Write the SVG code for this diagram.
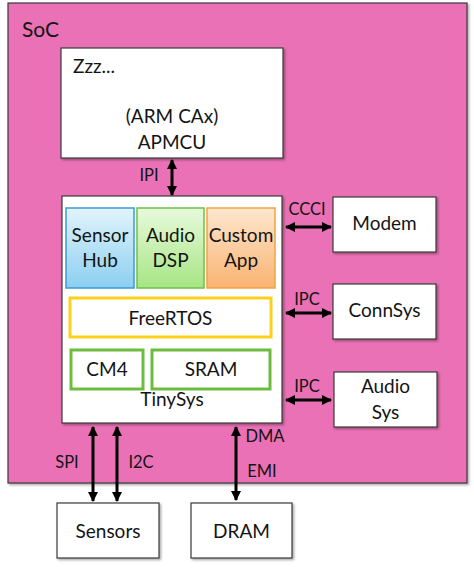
<svg xmlns="http://www.w3.org/2000/svg" width="474" height="568" viewBox="0 0 474 568">
<defs>
<linearGradient id="gBlue" x1="0" y1="0" x2="0" y2="1"><stop offset="0" stop-color="#e2f4fc"/><stop offset="1" stop-color="#8ccff0"/></linearGradient>
<linearGradient id="gGreen" x1="0" y1="0" x2="0" y2="1"><stop offset="0" stop-color="#e8fadb"/><stop offset="1" stop-color="#a6e584"/></linearGradient>
<linearGradient id="gOrange" x1="0" y1="0" x2="0" y2="1"><stop offset="0" stop-color="#fee7cf"/><stop offset="1" stop-color="#f9b371"/></linearGradient>
<marker id="ah" viewBox="0 0 10 10" refX="9" refY="5" markerWidth="3.4" markerHeight="3.4" orient="auto-start-reverse" markerUnits="strokeWidth"><path d="M0,0 L10,5 L0,10 z" fill="#000"/></marker>
<filter id="sh" x="-5%" y="-5%" width="115%" height="115%"><feDropShadow dx="1.5" dy="1.5" stdDeviation="1" flood-color="#000" flood-opacity="0.35"/></filter>
</defs>
<style>
text{font-family:Lato,"Open Sans","Liberation Sans",sans-serif;fill:#141414;text-anchor:middle}
.box{fill:#fff;stroke:#3a3a3a;stroke-width:1.2}
.big{font-size:19px}
.lbl{font-size:16.5px}
.ln{stroke:#000;stroke-width:3;fill:none;marker-start:url(#ah);marker-end:url(#ah)}
</style>
<g id="soc">
<rect x="8" y="3" width="459" height="480" fill="#ea71b5" stroke="#3a3a3a" stroke-width="1.2" filter="url(#sh)"/>
<text x="22" y="37" style="font-size:21px;text-anchor:start">SoC</text>
</g>
<g id="apmcu">
<rect class="box" x="61" y="48" width="222" height="110" filter="url(#sh)"/>
<text x="73" y="73" class="big" style="text-anchor:start">Zzz...</text>
<text x="172" y="123" class="big">(ARM CAx)</text>
<text x="172" y="149" class="big">APMCU</text>
</g>
<g id="tinysys">
<rect class="box" x="62" y="196" width="220" height="227" filter="url(#sh)"/>
<text x="172" y="406" class="big">TinySys</text>
</g>
<g id="sensorhub">
<rect x="66" y="208" width="68" height="80" fill="url(#gBlue)" stroke="#3d9ad3" stroke-width="1.5"/>
<text x="100" y="242" class="big">Sensor</text>
<text x="100" y="267" class="big">Hub</text>
</g>
<g id="audiodsp">
<rect x="137" y="208" width="67" height="80" fill="url(#gGreen)" stroke="#6cc04a" stroke-width="1.5"/>
<text x="170.5" y="242" class="big">Audio</text>
<text x="170.5" y="267" class="big">DSP</text>
</g>
<g id="customapp">
<rect x="207" y="208" width="68" height="80" fill="url(#gOrange)" stroke="#f2a242" stroke-width="1.5"/>
<text x="241" y="242" class="big">Custom</text>
<text x="241" y="267" class="big">App</text>
</g>
<g id="freertos">
<rect x="70" y="298" width="201" height="39" fill="#fff" stroke="#fdd01c" stroke-width="3"/>
<text x="170.5" y="325" class="big">FreeRTOS</text>
</g>
<g id="cm4">
<rect x="71" y="350" width="72" height="39" fill="#fff" stroke="#6cbd3e" stroke-width="3"/>
<text x="107" y="376" class="big">CM4</text>
</g>
<g id="sram">
<rect x="152" y="350" width="118" height="39" fill="#fff" stroke="#6cbd3e" stroke-width="3"/>
<text x="211" y="376" class="big">SRAM</text>
</g>
<g id="modem">
<rect class="box" x="333" y="197" width="103" height="55" filter="url(#sh)"/>
<text x="384.5" y="230" class="big">Modem</text>
</g>
<g id="connsys">
<rect class="box" x="333" y="284" width="103" height="55" filter="url(#sh)"/>
<text x="384.5" y="317" class="big">ConnSys</text>
</g>
<g id="audiosys">
<rect class="box" x="334" y="372" width="103" height="55" filter="url(#sh)"/>
<text x="385.5" y="393" class="big">Audio</text>
<text x="385.5" y="419" class="big">Sys</text>
</g>
<g id="sensors">
<rect class="box" x="57" y="503" width="102" height="55" filter="url(#sh)"/>
<text x="108" y="538" class="big">Sensors</text>
</g>
<g id="dram">
<rect class="box" x="191" y="503" width="101" height="55" filter="url(#sh)"/>
<text x="241.5" y="538" class="big">DRAM</text>
</g>
<g id="connectors">
<line class="ln" x1="172" y1="160" x2="172" y2="195"/>
<text x="149" y="181" class="lbl">IPI</text>
<line class="ln" x1="286" y1="227" x2="331" y2="227"/>
<text x="307" y="215" class="lbl">CCCI</text>
<line class="ln" x1="286" y1="313" x2="331" y2="313"/>
<text x="307" y="305" class="lbl">IPC</text>
<line class="ln" x1="286" y1="400" x2="331" y2="400"/>
<text x="307" y="392" class="lbl">IPC</text>
<line class="ln" x1="93" y1="427" x2="93" y2="501"/>
<text x="67" y="468" class="lbl">SPI</text>
<line class="ln" x1="117" y1="427" x2="117" y2="501"/>
<text x="141" y="468" class="lbl">I2C</text>
<line class="ln" x1="236" y1="427" x2="236" y2="500"/>
<text x="265" y="442" class="lbl">DMA</text>
<text x="262" y="477" class="lbl">EMI</text>
</g>
</svg>
